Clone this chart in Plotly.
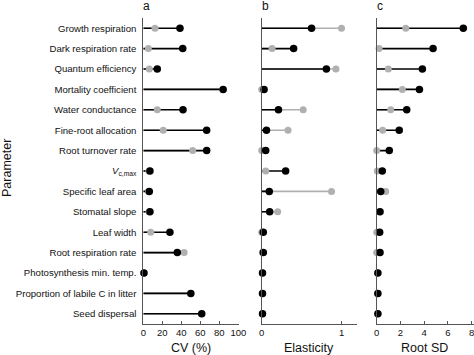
import plotly.graph_objects as go

params = [
    "Growth respiration", "Dark respiration rate", "Quantum efficiency",
    "Mortality coefficient", "Water conductance", "Fine-root allocation",
    "Root turnover rate", "<i>V</i><sub>c,max</sub>", "Specific leaf area",
    "Stomatal slope", "Leaf width", "Root respiration rate",
    "Photosynthesis min. temp.", "Proportion of labile C in litter", "Seed dispersal",
]

cv_black = [38.6, 41.5, 14.7, 84, 41.8, 66.7, 66.7, 7, 6.3, 7, 28, 35.8, 0.7, 50, 61.5]
cv_grey = [12.3, 5.3, 6.3, 84, 14.7, 21, 52, 6, 5.5, 6, 7.8, 43, 0.7, 50, 61.5]

el_black = [0.625, 0.40, 0.81, 0.03, 0.21, 0.06, 0.05, 0.30, 0.095, 0.10, 0.02, 0.02, 0.01, 0.01, 0.01]
el_grey = [1.0, 0.13, 0.93, 0.0, 0.52, 0.33, 0.0, 0.05, 0.875, 0.20, 0.0, 0.01, 0.01, 0.01, 0.01]

sd_black = [7.3, 4.75, 3.85, 3.6, 2.53, 1.9, 1.06, 0.47, 0.34, 0.28, 0.25, 0.28, 0.1, 0.1, 0.1]
sd_grey = [2.45, 0.2, 0.98, 2.16, 1.18, 0.5, 0.0, 0.05, 0.76, 0.25, 0.0, 0.0, 0.1, 0.1, 0.1]

panels = [
    ("a", "CV (%)", cv_black, cv_grey, [0, 100.2], [0, 20, 40, 60, 80, 100]),
    ("b", "Elasticity", el_black, el_grey, [0, 1.19], [0, 1]),
    ("c", "Root SD", sd_black, sd_grey, [0, 8.2], [0, 2, 4, 6, 8]),
]

W, H = 474, 355
x_domains = [
    [143.3 / W, 238.5 / W],
    [261.7 / W, 356.7 / W],
    [376.7 / W, 474 / W],
]
y_domain = [1 - 324 / H, 1 - 18 / H]
rows = list(range(1, len(params) + 1))

BLACK = "#000000"
GREY = "#b0b0b0"
FONT = "Liberation Sans, Arial, Helvetica, sans-serif"
TXT = "#111"

fig = go.Figure()


def segs(vals):
    xs, ys = [], []
    for r, v in zip(rows, vals):
        xs += [0, v, None]
        ys += [r, r, None]
    return xs, ys


for i, (letter, title, black, grey, rng, tv) in enumerate(panels):
    xa = "x" if i == 0 else f"x{i+1}"
    ya = "y" if i == 0 else f"y{i+1}"
    gx, gy = segs(grey)
    bx, by = segs(black)
    fig.add_trace(go.Scatter(x=gx, y=gy, mode="lines", line=dict(color=GREY, width=1.6),
                             xaxis=xa, yaxis=ya, showlegend=False, hoverinfo="skip",
                             cliponaxis=False))
    fig.add_trace(go.Scatter(x=bx, y=by, mode="lines", line=dict(color=BLACK, width=1.6),
                             xaxis=xa, yaxis=ya, showlegend=False, hoverinfo="skip",
                             cliponaxis=False))
    fig.add_trace(go.Scatter(x=grey, y=rows, mode="markers",
                             marker=dict(color=GREY, size=7),
                             xaxis=xa, yaxis=ya, showlegend=False, cliponaxis=False))
    fig.add_trace(go.Scatter(x=black, y=rows, mode="markers",
                             marker=dict(color=BLACK, size=7.5),
                             xaxis=xa, yaxis=ya, showlegend=False, cliponaxis=False))

    xkey = "xaxis" if i == 0 else f"xaxis{i+1}"
    ykey = "yaxis" if i == 0 else f"yaxis{i+1}"
    fig.layout[xkey] = dict(
        domain=x_domains[i], range=rng, tickvals=tv, ticks="inside", ticklen=3,
        tickcolor="#555", showline=True, linecolor="#555", linewidth=1,
        showgrid=False, zeroline=False, anchor=ya, automargin=False,
        ticklabeloverflow="allow",
        tickfont=dict(size=9.5, color=TXT, family=FONT), fixedrange=True,
    )
    ydict = dict(
        domain=y_domain, range=[15.5, 0.5], showline=True, linecolor="#555",
        linewidth=1, showgrid=False, zeroline=False, anchor=xa,
        tickvals=rows, fixedrange=True, automargin=False,
    )
    if i == 0:
        ydict.update(ticktext=params, ticks="outside", ticklen=4,
                     tickcolor="rgba(0,0,0,0)",
                     tickfont=dict(size=9.6, color=TXT, family=FONT))
    else:
        ydict.update(showticklabels=False, ticks="")
    fig.layout[ykey] = ydict

    fig.add_annotation(x=x_domains[i][0], y=1 - 6 / H, xref="paper", yref="paper",
                       text=letter, showarrow=False, xanchor="left", yanchor="middle",
                       xshift=-2, font=dict(size=12, color=TXT, family=FONT))
    center = (x_domains[i][0] + 95 / W / 2)
    fig.add_annotation(x=center, y=1 - 348 / H,
                       xref="paper", yref="paper", text=title, showarrow=False,
                       xanchor="center", yanchor="middle",
                       font=dict(size=12.5, color=TXT, family=FONT))

fig.add_annotation(x=7 / W, y=1 - 168 / H, xref="paper", yref="paper", text="Parameter",
                   showarrow=False, textangle=-90, xanchor="center", yanchor="middle",
                   font=dict(size=12.5, color=TXT, family=FONT))

fig.update_layout(
    width=W, height=H, margin=dict(l=0, r=0, t=0, b=0),
    paper_bgcolor="white", plot_bgcolor="white",
    font=dict(family=FONT, color=TXT),
)

fig.write_html(
    "out.html",
    config={"displayModeBar": False},
    post_script="document.body.style.margin='0';document.body.style.padding='0';"
                "document.body.style.overflow='hidden';",
)
